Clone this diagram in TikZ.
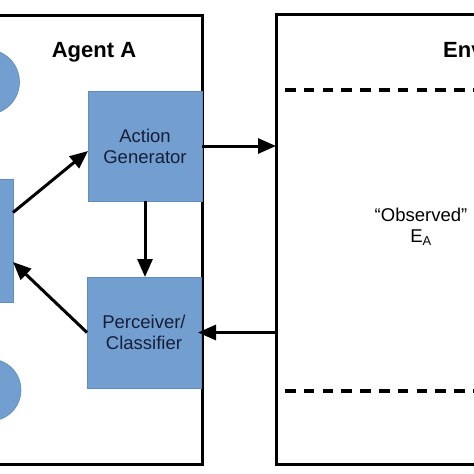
\documentclass[tikz,border=0pt]{standalone}
\usepackage{fontspec}
\setmainfont{Liberation Sans}
\usetikzlibrary{positioning,arrows.meta}

\definecolor{boxblue}{HTML}{729FCF}
\definecolor{boxedge}{HTML}{5F8CC2}
\definecolor{boxtext}{HTML}{161E3A}

\begin{document}
\begin{tikzpicture}[
  x=1pt, y=-1pt,
  font=\fontsize{18.5}{21}\selectfont,
  frame/.style={rectangle, draw=black, line width=3pt, inner sep=0pt, outer sep=0pt},
  blk/.style={rectangle, fill=boxblue, draw=boxedge, line width=0.6pt, inner sep=2pt, outer sep=0pt,
              text=boxtext, align=center, minimum width=114pt, minimum height=110pt},
  knob/.style={circle, fill=boxblue, draw=boxedge, line width=0.6pt, inner sep=0pt},
  ttl/.style={font=\fontsize{22}{26}\selectfont\bfseries, inner sep=0pt},
  arr/.style={-{Triangle[length=18pt,width=15pt]}, line width=3pt},
  dashline/.style={line width=4.5pt, dash pattern=on 10.5pt off 8.3pt}
]
\path[use as bounding box, clip] (0,0) rectangle (474,474);

% outer frames
\node[frame, minimum width=216pt, minimum height=449pt]   (agent) at (94,239.5) {};
\node[frame, minimum width=468pt, minimum height=449.5pt] (env)   at (510,239.25) {};
\node[ttl, anchor=base]       (agentttl) at (94,57.5)  {Agent A};
\node[ttl, anchor=base west]  (envttl)   at (443,57.5) {Environment};

% agent parts
\node[knob, minimum size=65pt] (sense) at (-13,82)  {};
\node[knob, minimum size=62pt] (act)   at (-10,390) {};
\node[blk, minimum width=30pt, minimum height=123pt] (proc) at (-2,240.5) {};
\node[blk] (gen)  at (145,146)   {Action\\Generator};
\node[blk, minimum height=111pt] (perc) at (144,332.5) {Perceiver/\\Classifier};

% environment
\draw[dashline] (285,90)  -- (760,90);
\draw[dashline] (285,391) -- (760,391);
\node[align=center] (obs) at (421,227) {“Observed”\\E\textsubscript{A}};

% arrows
\draw[arr] (gen.east) -- (gen.east -| env.west);
\draw[arr, shorten >=-3pt] (perc.east -| env.west) -- (perc.east);
\draw[arr] (gen.south) -- (gen.south |- perc.north);
\draw[arr] ([yshift=28pt]proc.east) -- ([yshift=-5pt]gen.west);
\draw[arr] (perc.west) -- ([yshift=-21.5pt]proc.east);
\end{tikzpicture}
\end{document}
